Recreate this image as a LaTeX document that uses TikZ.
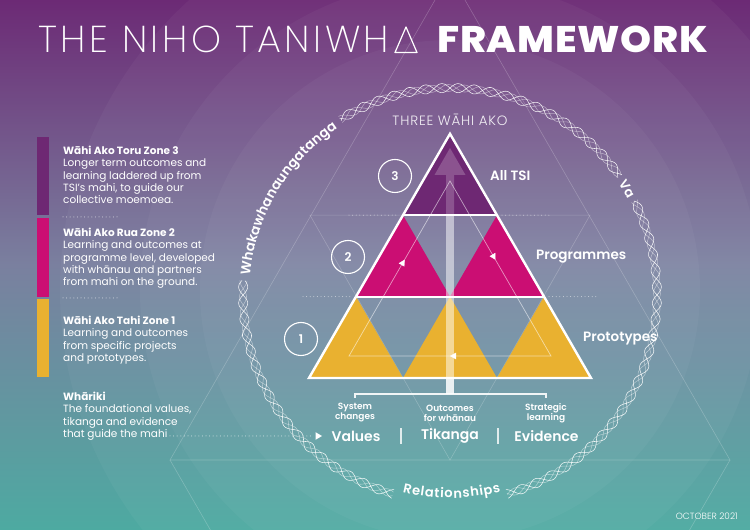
\documentclass[tikz,border=0pt]{standalone}
\usepackage{fontspec}
\setmainfont{Poppins}
\newfontfamily\popxl{Poppins ExtraLight}[LetterSpace=9]
\newfontfamily\popxb{Poppins ExtraBold}[LetterSpace=2]
\newfontfamily\poplight{Poppins Light}
\newfontfamily\poplightsp{Poppins Light}[LetterSpace=6]
\newfontfamily\popsemi{Poppins SemiBold}
\usetikzlibrary{decorations.text,decorations.markings,arrows.meta}
\definecolor{bgtop}{HTML}{6C2A75}
\definecolor{bgmid}{HTML}{7A809F}
\definecolor{bgbot}{HTML}{4DAAA1}
\definecolor{zpurple}{HTML}{6E2873}
\definecolor{zmagenta}{HTML}{CB0E73}
\definecolor{zyellow}{HTML}{E9B130}
\newcommand{\wavestrand}[5]{%
  \draw[strand, opacity=#5] plot[domain=#1:#2, samples=260, smooth]
    ({450+(207+#3*sin(40*\x+#4))*cos(\x)}, {235+(207+#3*sin(40*\x+#4))*sin(\x)});}
\newcommand{\waveseg}[2]{%
  \wavestrand{#1}{#2}{4.5}{0}{0.9}
  \wavestrand{#1}{#2}{4.5}{180}{0.9}
  \wavestrand{#1}{#2}{3.5}{70}{0.45}
  \wavestrand{#1}{#2}{3.5}{250}{0.45}}
\tikzset{
  faint/.style={white, opacity=0.22, line width=0.6pt},
  strand/.style={white, line width=0.55pt},
  dotline/.style={white, opacity=0.8, line width=1pt, dash pattern=on 0pt off 3.6pt, line cap=round},
  legtext/.style={anchor=north west, inner sep=0pt, align=left, text=white, font=\fontsize{10.5}{12.3}\selectfont},
  numc/.style={circle, draw=white, line width=1.1pt, minimum size=33pt, inner sep=0pt, text=white, font=\popsemi\fontsize{12}{12}\selectfont},
  lvl/.style={anchor=west, inner sep=0pt, text=white, font=\popsemi\fontsize{13.5}{13.5}\selectfont},
  sublbl/.style={align=center, inner sep=0pt, text=white, font=\popsemi\fontsize{9}{10}\selectfont},
  mainlbl/.style={inner sep=0pt, text=white, font=\popsemi\fontsize{14}{14}\selectfont},
  thinline/.style={white, opacity=0.55, line width=0.7pt},
  arrowmark/.style={decorate, decoration={markings, mark=at position #1 with {\arrow[white]{Triangle[length=6pt,width=6.5pt]}}}},
  outline/.style={white, line width=2.4pt, line join=miter},
}
\begin{document}
\begin{tikzpicture}[x=1pt,y=1pt]
\useasboundingbox (0,0) rectangle (750,530);
\clip (0,0) rectangle (750,530);
% background
\shade[top color=bgtop, bottom color=bgbot, middle color=bgmid] (0,0) rectangle (750,530);
\fill[white, opacity=0.035] (450,240) circle (390);
\fill[white, opacity=0.035] (450,240) circle (310);
\fill[white, opacity=0.035] (450,240) circle (250);
% faint lattice
\coordinate (bgA) at (450,556);
\coordinate (bgB) at (170,70);
\coordinate (bgC) at (730,70);
\coordinate (bgD) at (450,-415);
\coordinate (dA) at (310,314.8);
\coordinate (dB) at (590,314.8);
\coordinate (dC) at (450,70);
\draw[faint] (bgA) -- (bgB) -- (bgC) -- cycle;
\draw[faint] (dA) -- (dB) -- (dC) -- cycle;
\draw[faint] (bgB) -- (bgD) -- (bgC);
% wave circle
\waveseg{35}{122}
\waveseg{-74}{27}
\waveseg{176}{254}
% text on circle
\path[decorate, decoration={text along path, text align={fit to path},
  text={|\popsemi\fontsize{13.5}{13.5}\selectfont\color{white}|Whakawhanaungatanga}}]
  (450,235) ++(174.5:201) arc[start angle=174.5, end angle=124, radius=201];
\path[decorate, decoration={text along path, text align=center,
  text={|\popsemi\fontsize{13}{13}\selectfont\color{white}|Va}}]
  (450,235) ++(36:202) arc[start angle=36, end angle=26, radius=202];
\path[decorate, decoration={text along path, text align={fit to path},
  text={|\popsemi\fontsize{13}{13}\selectfont\color{white}|Relationships}}]
  (450,235) ++(256.5:203) arc[start angle=256.5, end angle=284.5, radius=203];
% pyramid coordinates
\coordinate (P0) at (450,396.2);
\coordinate (L3) at (403,314.8);
\coordinate (R3) at (497,314.8);
\coordinate (L2) at (356,233.4);
\coordinate (M2) at (450,233.4);
\coordinate (R2) at (544,233.4);
\coordinate (L1) at (309,152);
\coordinate (A1) at (403,152);
\coordinate (B1) at (497,152);
\coordinate (R1) at (591,152);
\fill[zpurple] (P0) -- (L3) -- (R3) -- cycle;
\fill[zmagenta] (L2) -- (M2) -- (L3) -- cycle;
\fill[zmagenta] (M2) -- (R2) -- (R3) -- cycle;
\fill[zyellow] (L1) -- (A1) -- (L2) -- cycle;
\fill[zyellow] (A1) -- (B1) -- (M2) -- cycle;
\fill[zyellow] (B1) -- (R1) -- (R2) -- cycle;
% inner thin cycle triangle
\coordinate (I1) at (349,174);
\coordinate (I2) at (450,349);
\coordinate (I3) at (551,174);
\draw[thinline] (I1) -- (I2) -- (I3) -- cycle;
\path[arrowmark=0.55] (I1) -- (I2);
\path[arrowmark=0.45] (I2) -- (I3);
\path[arrowmark=0.5] (I3) -- (I1);
% vertical arrow
\fill[white, opacity=0.2] (446,314.8) -- (446,355) -- (434.5,355) -- (450,382) -- (465.5,355) -- (454,355) -- (454,314.8) -- cycle;
\fill[white, opacity=0.5] (446,152) rectangle (454,314.8);
\fill[white, opacity=0.85] (446,136) rectangle (454,152);
% outlines
\draw[outline] (L1) -- (R1) -- (P0) -- cycle;
\draw[white, line width=2pt] (L3) -- (R3);
\draw[white, line width=2pt] (L2) -- (R2);
% dotted level lines
\draw[dotline, opacity=0.6] (349,314.8) -- (398,314.8);
\draw[dotline, opacity=0.6] (502,314.8) -- (552,314.8);
\draw[dotline, opacity=0.6] (303,233.4) -- (351,233.4);
\draw[dotline, opacity=0.6] (549,233.4) -- (597,233.4);
% bracket
\coordinate (bk1) at (355,136);
\coordinate (bk2) at (546,136);
\draw[white, opacity=0.9, line width=1.1pt] ([yshift=-4pt]bk1) -- (bk1) -- (bk2) -- ([yshift=-4pt]bk2);
% labels
\node[numc] (c3) at (395,354) {3};
\node[numc] (c2) at (348,273) {2};
\node[numc] (c1) at (301,191) {1};
\node[lvl] (l3) at (490,354) {All TSI};
\node[lvl] (l2) at (536,273) {Programmes};
\node[lvl] (l1) at (583,191) {Prototypes};
\node[text=white, opacity=0.9, inner sep=0pt, font=\poplightsp\fontsize{13.5}{13.5}\selectfont] (three) at (450,410) {THREE WĀHI AKO};
\node[sublbl] (s1) at (355,117) {System\\changes};
\node[sublbl] (s2) at (450,117) {Outcomes\\for whānau};
\node[sublbl] (s3) at (546,117) {Strategic\\learning};
\node[mainlbl] (v1) at (356,94) {Values};
\node[mainlbl] (v2) at (450,94) {Tikanga};
\node[mainlbl] (v3) at (546.5,94) {Evidence};
\draw[white, opacity=0.8, line width=1.1pt] (401,86) -- (401,102);
\draw[white, opacity=0.8, line width=1.1pt] (498,86) -- (498,102);
% legend
\fill[zpurple] (37,315) rectangle (49,393);
\fill[zmagenta] (37,233) rectangle (49,312);
\fill[zyellow] (37,153) rectangle (49,231);
\node[legtext] (z3) at (63,384) {\textbf{Wāhi Ako Toru Zone 3}\\Longer term outcomes and\\learning laddered up from\\TSI's mahi, to guide our\\collective moemoea.};
\node[legtext] (z2) at (63,302) {\textbf{Wāhi Ako Rua Zone 2}\\Learning and outcomes at\\programme level, developed\\with whānau and partners\\from mahi on the ground.};
\node[legtext] (z1) at (63,214) {\textbf{Wāhi Ako Tahi Zone 1}\\Learning and outcomes\\from specific projects\\and prototypes.};
\node[legtext] (wh) at (63,138) {\textbf{Whāriki}\\The foundational values,\\tikanga and evidence\\that guide the mahi};
\draw[dotline] (63,313) -- (118,313);
\draw[dotline] (63,232) -- (118,232);
\coordinate (ld1) at (170,94);
\coordinate (ld2) at (311,94);
\draw[dotline] (ld1) -- (ld2);
\fill[white] (315.5,90.2) -- (322,94) -- (315.5,97.8) -- cycle;
% title
\node[anchor=base west, inner sep=0pt, text=white] (t1) at (38,477) {\resizebox{351pt}{26.5pt}{\popxl THE NIHO TANIWH}};
\coordinate (d1) at (395,477.5);
\coordinate (d2) at (406,503);
\coordinate (d3) at (417,477.5);
\draw[white, line width=1.2pt, line join=round] (d1) -- (d2) -- (d3) -- cycle;
\node[anchor=base west, inner sep=0pt, text=white] (t2) at (437,477) {\resizebox{271pt}{26.5pt}{\popxb FRAMEWORK}};
\node[anchor=east, inner sep=0pt, text=white, font=\poplight\fontsize{9}{9}\selectfont] (date) at (738,14) {OCTOBER 2021};
\end{tikzpicture}
\end{document}
